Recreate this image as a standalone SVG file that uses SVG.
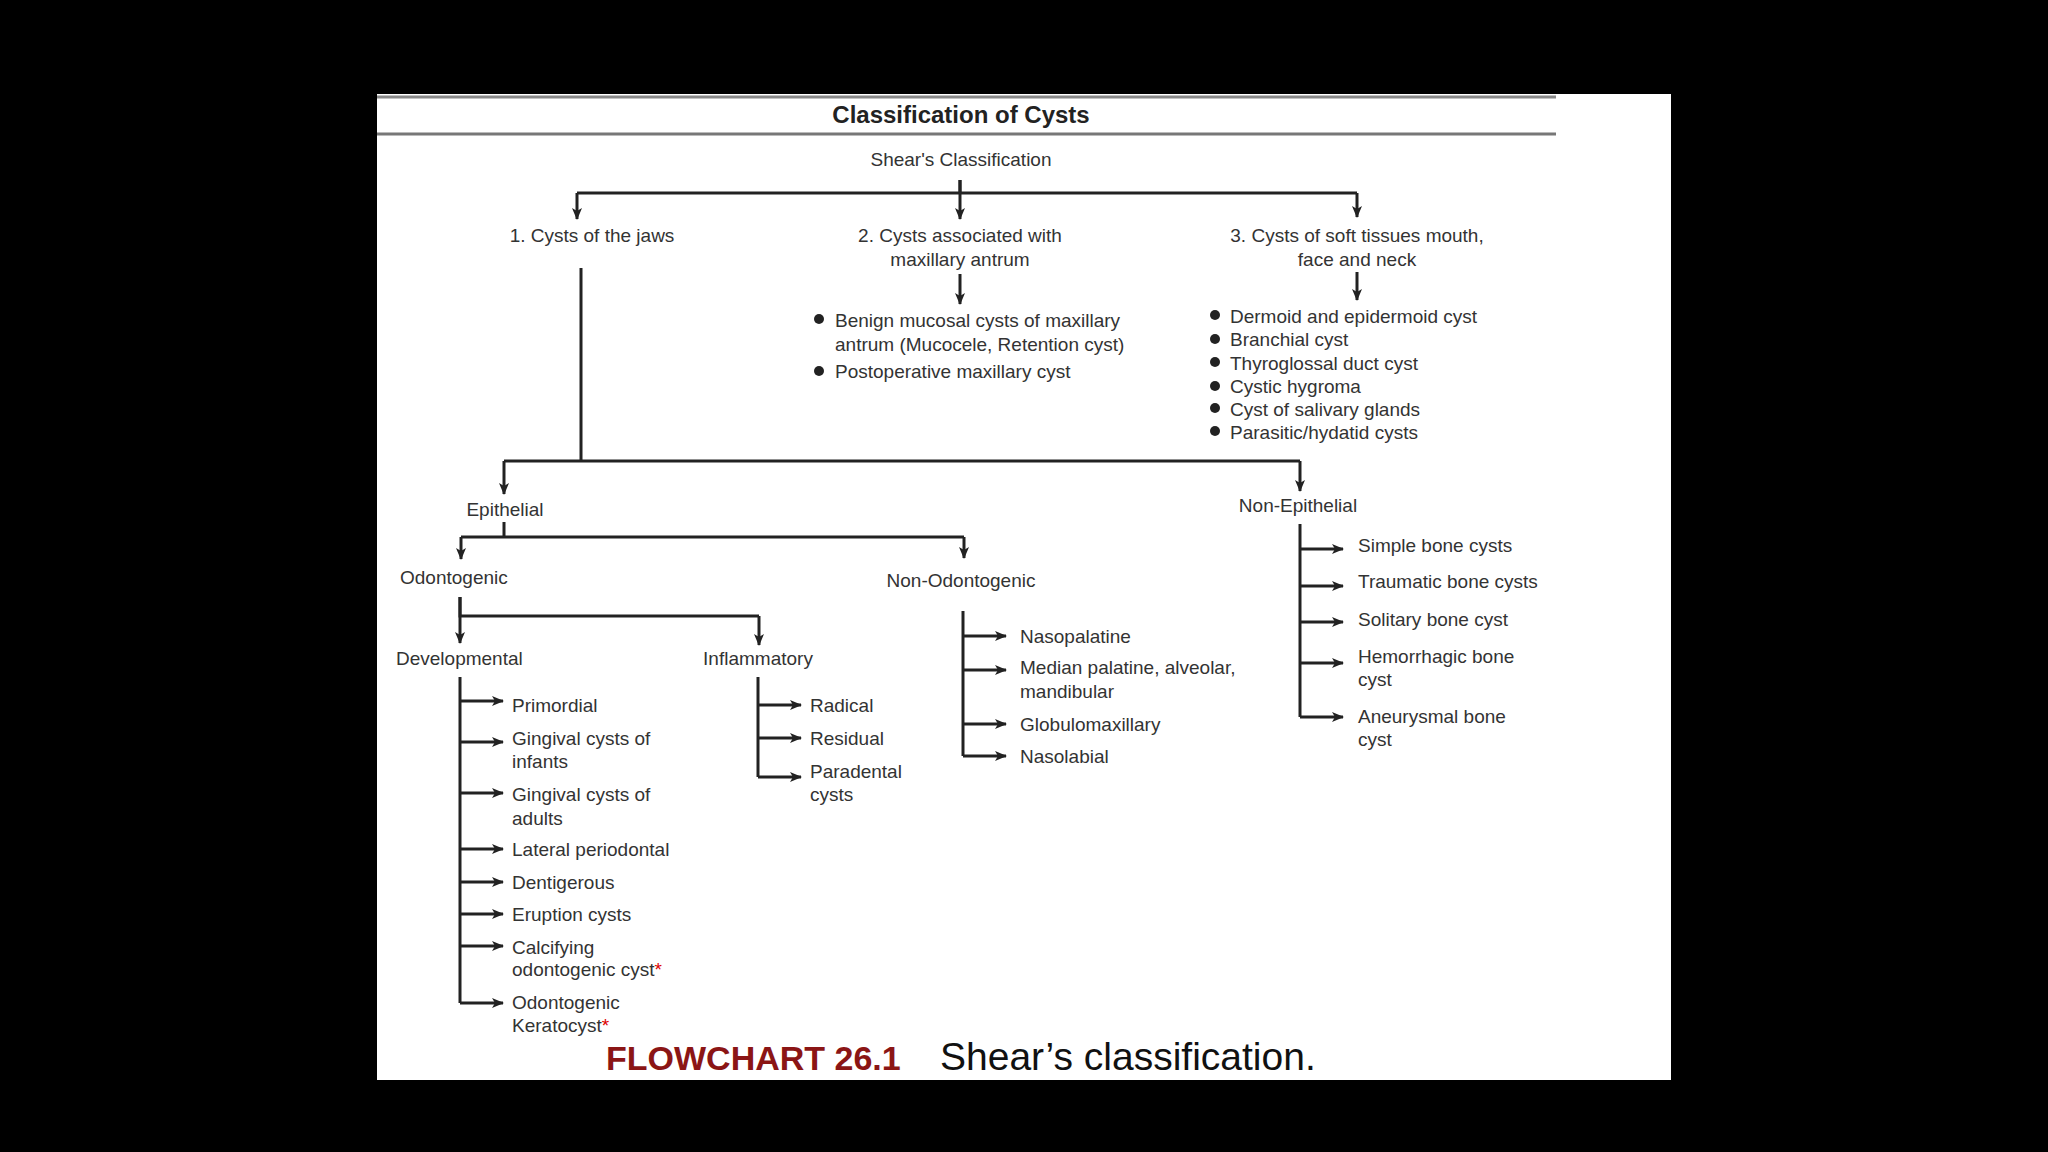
<svg xmlns="http://www.w3.org/2000/svg" width="2048" height="1152" viewBox="0 0 2048 1152">
<defs>
<marker id="ah" markerWidth="12" markerHeight="12" refX="11" refY="6" orient="auto" markerUnits="userSpaceOnUse"><path d="M0,1 L12,6 L0,11 L3,6 Z" fill="#222"/></marker>
<style>
text{font-family:"Liberation Sans",Arial,sans-serif;font-size:19px;fill:#333}
.c{text-anchor:middle}
.ln{stroke:#222;stroke-width:3;fill:none}
.ar{stroke:#222;stroke-width:3;fill:none;marker-end:url(#ah)}
.r{fill:#d00}
</style>
</defs>
<rect width="2048" height="1152" fill="#000"/>
<rect x="377" y="94" width="1294" height="986" fill="#fff"/>
<line x1="377" y1="97" x2="1556" y2="97" stroke="#888" stroke-width="3"/>
<line x1="377" y1="134" x2="1556" y2="134" stroke="#777" stroke-width="3"/>
<text x="961" y="123" class="c" style="font-size:24px;font-weight:bold;fill:#222">Classification of Cysts</text>

<g id="connectors">
<path class="ln" d="M960,180 V193 M577,193 H1357"/>
<path class="ar" d="M960,180 V219"/>
<path class="ar" d="M577,193 V219"/>
<path class="ar" d="M1357,193 V217"/>
<path class="ar" d="M960,274 V304"/>
<path class="ar" d="M1357,272 V300"/>
<path class="ln" d="M581,268 V461 M504,461 H1300"/>
<path class="ar" d="M504,461 V494"/>
<path class="ar" d="M1300,461 V491"/>
<path class="ln" d="M504,522 V537 M461,537 H964"/>
<path class="ar" d="M461,537 V559"/>
<path class="ar" d="M964,537 V558"/>
<path class="ln" d="M460,597 V616 H759"/>
<path class="ar" d="M460,597 V643"/>
<path class="ar" d="M759,616 V645"/>
<path class="ln" d="M460,677 V1003"/>
<path class="ar" d="M460,701 H503"/><path class="ar" d="M460,742 H503"/><path class="ar" d="M460,793 H503"/><path class="ar" d="M460,849 H503"/><path class="ar" d="M460,882 H503"/><path class="ar" d="M460,914 H503"/><path class="ar" d="M460,946 H503"/><path class="ar" d="M460,1003 H503"/>
<path class="ln" d="M758,677 V777"/>
<path class="ar" d="M758,705 H801"/><path class="ar" d="M758,738 H801"/><path class="ar" d="M758,777 H801"/>
<path class="ln" d="M963,611 V756"/>
<path class="ar" d="M963,636 H1006"/><path class="ar" d="M963,670 H1006"/><path class="ar" d="M963,724 H1006"/><path class="ar" d="M963,756 H1006"/>
<path class="ln" d="M1300,524 V717"/>
<path class="ar" d="M1300,549 H1343"/><path class="ar" d="M1300,586 H1343"/><path class="ar" d="M1300,622 H1343"/><path class="ar" d="M1300,663 H1343"/><path class="ar" d="M1300,717 H1343"/>
</g>

<g id="shear"><text x="961" y="166" class="c">Shear's Classification</text></g>
<g id="jaws"><text x="592" y="242" class="c">1. Cysts of the jaws</text></g>
<g id="antrum"><text x="960" y="242" class="c">2. Cysts associated with</text><text x="960" y="266" class="c">maxillary antrum</text></g>
<g id="soft"><text x="1357" y="242" class="c">3. Cysts of soft tissues mouth,</text><text x="1357" y="266" class="c">face and neck</text></g>
<g id="antrum-list">
<circle cx="819" cy="319" r="5" fill="#222"/><text x="835" y="327">Benign mucosal cysts of maxillary</text><text x="835" y="351">antrum (Mucocele, Retention cyst)</text>
<circle cx="819" cy="371" r="5" fill="#222"/><text x="835" y="378">Postoperative maxillary cyst</text>
</g>
<g id="soft-list">
<circle cx="1215" cy="315" r="5" fill="#222"/><text x="1230" y="323">Dermoid and epidermoid cyst</text>
<circle cx="1215" cy="339" r="5" fill="#222"/><text x="1230" y="346">Branchial cyst</text>
<circle cx="1215" cy="362" r="5" fill="#222"/><text x="1230" y="370">Thyroglossal duct cyst</text>
<circle cx="1215" cy="386" r="5" fill="#222"/><text x="1230" y="393">Cystic hygroma</text>
<circle cx="1215" cy="408" r="5" fill="#222"/><text x="1230" y="416">Cyst of salivary glands</text>
<circle cx="1215" cy="431" r="5" fill="#222"/><text x="1230" y="439">Parasitic/hydatid cysts</text>
</g>
<g id="epithelial"><text x="505" y="516" class="c">Epithelial</text></g>
<g id="nonepithelial"><text x="1298" y="512" class="c">Non-Epithelial</text></g>
<g id="odontogenic"><text x="400" y="584">Odontogenic</text></g>
<g id="nonodontogenic"><text x="961" y="587" class="c">Non-Odontogenic</text></g>
<g id="developmental"><text x="396" y="665">Developmental</text></g>
<g id="inflammatory"><text x="758" y="665" class="c">Inflammatory</text></g>
<g id="dev-list">
<text x="512" y="712">Primordial</text>
<text x="512" y="745">Gingival cysts of</text><text x="512" y="768">infants</text>
<text x="512" y="801">Gingival cysts of</text><text x="512" y="825">adults</text>
<text x="512" y="856">Lateral periodontal</text>
<text x="512" y="889">Dentigerous</text>
<text x="512" y="921">Eruption cysts</text>
<text x="512" y="954">Calcifying</text><text x="512" y="976">odontogenic cyst<tspan class="r">*</tspan></text>
<text x="512" y="1009">Odontogenic</text><text x="512" y="1032">Keratocyst<tspan class="r">*</tspan></text>
</g>
<g id="inf-list">
<text x="810" y="712">Radical</text>
<text x="810" y="745">Residual</text>
<text x="810" y="778">Paradental</text><text x="810" y="801">cysts</text>
</g>
<g id="nonodo-list">
<text x="1020" y="643">Nasopalatine</text>
<text x="1020" y="674">Median palatine, alveolar,</text><text x="1020" y="698">mandibular</text>
<text x="1020" y="731">Globulomaxillary</text>
<text x="1020" y="763">Nasolabial</text>
</g>
<g id="nonepi-list">
<text x="1358" y="552">Simple bone cysts</text>
<text x="1358" y="588">Traumatic bone cysts</text>
<text x="1358" y="626">Solitary bone cyst</text>
<text x="1358" y="663">Hemorrhagic bone</text><text x="1358" y="686">cyst</text>
<text x="1358" y="723">Aneurysmal bone</text><text x="1358" y="746">cyst</text>
</g>
<g id="caption">
<text x="606" y="1070" style="font-size:34px;font-weight:bold;fill:#8b1515">FLOWCHART 26.1</text>
<text x="940" y="1070" style="font-size:39px;fill:#111">Shear’s classification.</text>
</g>
</svg>
